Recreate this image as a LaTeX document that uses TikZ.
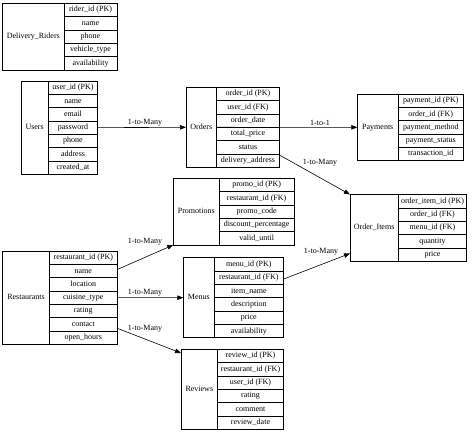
\documentclass[tikz,border=0pt]{standalone}
\usepackage{fontspec}
\setmainfont{Liberation Serif}
\usetikzlibrary{arrows.meta,calc}

\newcommand{\erbox}[7]{%
  \foreach \f [count=\i] in {#7} {%
    \node[fieldcell, minimum width=#6pt, anchor=north west] (#1-\i) at ({#3+#5},{#4+(\i-1)*13.33}) {\f};
    \xdef\errows{\i}%
  }%
  \pgfmathsetmacro{\erh}{\errows*13.33}%
  \node[labelcell, minimum width=#5pt, minimum height=\erh pt, anchor=north west] (#1) at (#3,#4) {#2};
}

\begin{document}
\begin{tikzpicture}[x=1pt,y=-1pt,
  font=\fontsize{8}{9.6}\selectfont,
  cellbase/.style={draw=black, line width=0.6pt, inner sep=0pt, outer sep=0pt,
    text height=5.6pt, text depth=1.6pt},
  fieldcell/.style={cellbase, minimum height=13.33pt},
  labelcell/.style={cellbase},
  edge/.style={draw=black, line width=0.6pt, -{Triangle[length=6pt,width=4.5pt]}},
  rel/.style={inner sep=1pt}]
\useasboundingbox (0,0) rectangle (474,432);

\erbox{riders}{Delivery\_Riders}{2.7}{3.3}{61.3}{53}{rider\_id (PK), name, phone, vehicle\_type, availability}
\erbox{users}{Users}{21}{81}{27.3}{49.4}{user\_id (PK), name, email, password, phone, address, created\_at}
\erbox{orders}{Orders}{186}{87.3}{30.7}{62.6}{order\_id (PK), user\_id (FK), order\_date, total\_price, status, delivery\_address}
\erbox{payments}{Payments}{357.3}{94}{41}{65}{payment\_id (PK), order\_id (FK), payment\_method, payment\_status, transaction\_id}
\erbox{orderitems}{Order\_Items}{350}{194.5}{48.3}{68.4}{order\_item\_id (PK), order\_id (FK), menu\_id (FK), quantity, price}
\erbox{promotions}{Promotions}{173.3}{178.3}{46}{74.7}{promo\_id (PK), restaurant\_id (FK), promo\_code, discount\_percentage, valid\_until}
\erbox{restaurants}{Restaurants}{2.7}{251}{46.6}{68}{restaurant\_id (PK), name, location, cuisine\_type, rating, contact, open\_hours}
\erbox{menus}{Menus}{183.3}{257.7}{31}{69}{menu\_id (PK), restaurant\_id (FK), item\_name, description, price, availability}
\erbox{reviews}{Reviews}{181}{349.3}{36.7}{65.6}{review\_id (PK), restaurant\_id (FK), user\_id (FK), rating, comment, review\_date}

\draw[edge] (users-4.east) -- (orders.west);
\node[rel] (l1) at (145,123) {1-to-Many};

\draw[edge] (orders.east) -- (payments.west);
\node[rel] (l2) at (320,122.7) {1-to-1};

\draw[edge] ($(orders-6.north east)+(0,1)$) -- (orderitems.north west);
\node[rel] (l3) at (320,163) {1-to-Many};

\draw[edge] ($(menus-2.east)+(0,1.5)$) -- ($(orderitems.south west)+(0,-7.7)$);
\node[rel] (l4) at (321,252) {1-to-Many};

\draw[edge] ($(restaurants-2.east)+(0,-1.5)$) -- (promotions.south west);
\node[rel] (l5) at (145,242) {1-to-Many};

\draw[edge] (restaurants-4.east) -- (menus.west);
\node[rel] (l6) at (145,293) {1-to-Many};

\draw[edge] ($(restaurants-6.east)+(0,4)$) -- ($(reviews.north west)+(0,3.7)$);
\node[rel] (l7) at (145,329) {1-to-Many};
\end{tikzpicture}
\end{document}
